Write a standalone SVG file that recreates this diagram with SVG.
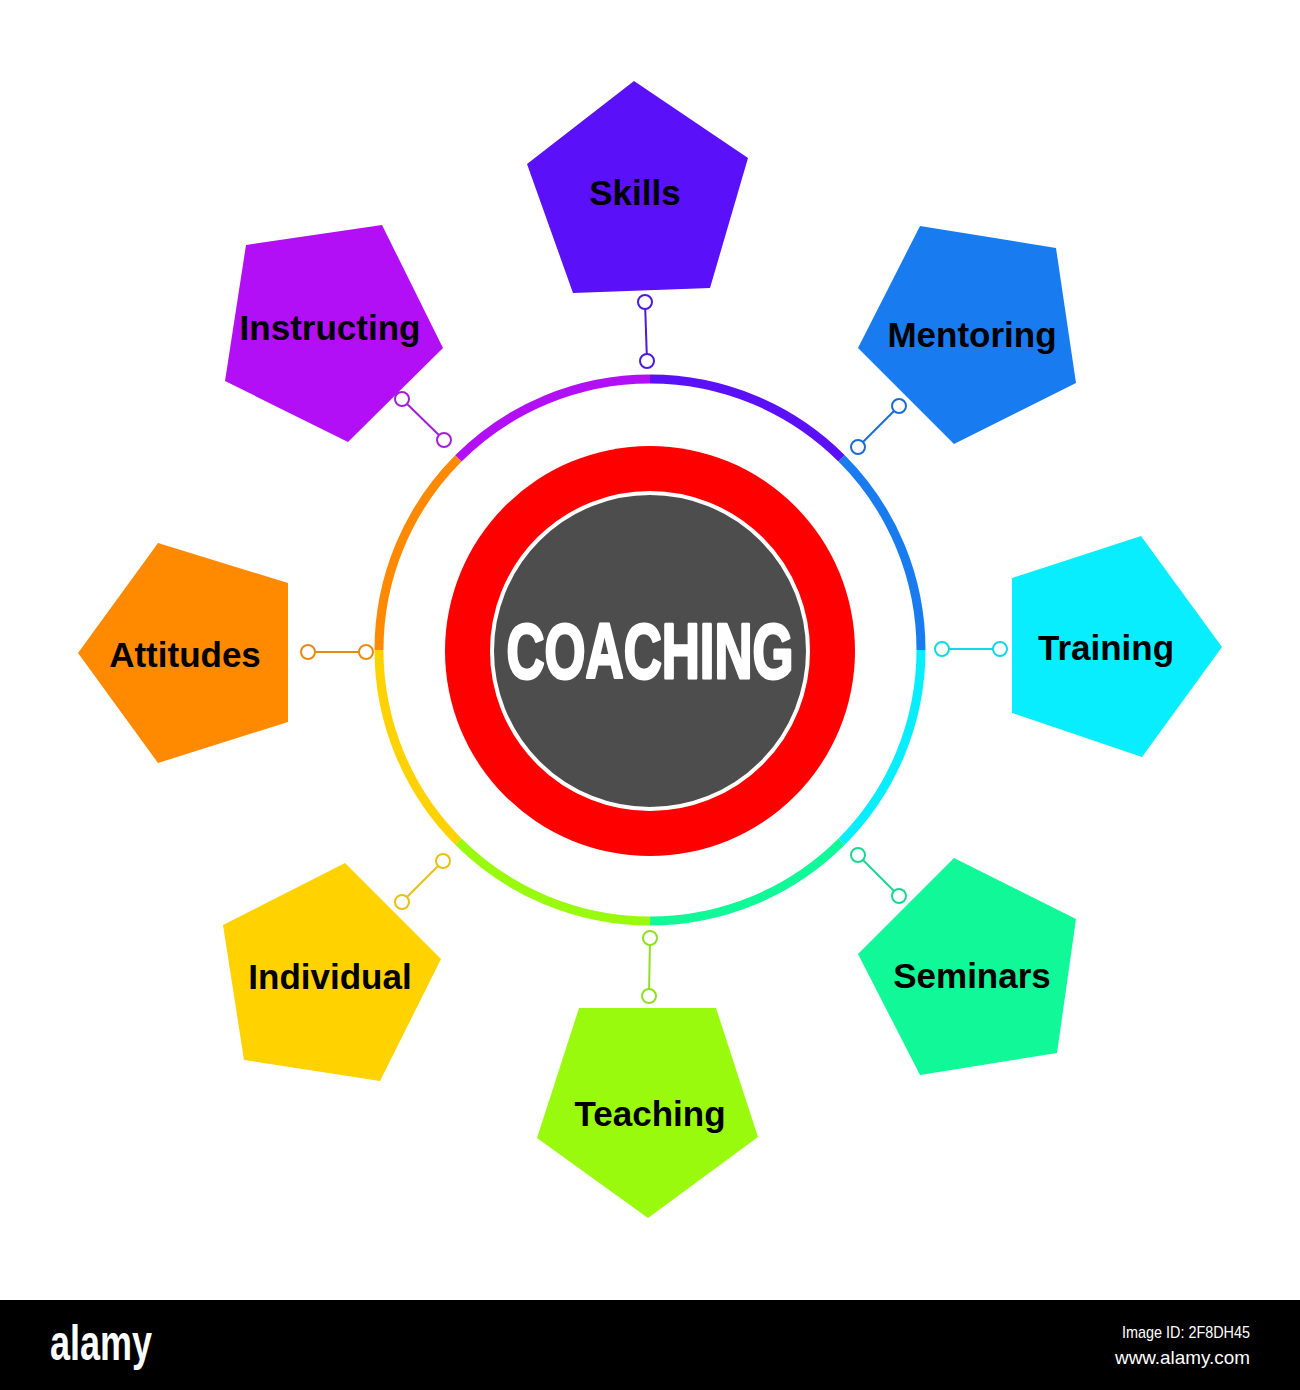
<svg xmlns="http://www.w3.org/2000/svg" width="1300" height="1390" viewBox="0 0 1300 1390">
<style>
.lbl{font-family:"Liberation Sans",Arial,sans-serif;font-weight:bold;font-size:35px;fill:#000;text-anchor:middle}
.seg{fill:none;stroke-width:9}
.con{fill:none;stroke-width:2}
.dot{fill:#fff;stroke-width:2}
.wm{font-family:"Liberation Sans",Arial,sans-serif;fill:#fff}
</style>
<rect x="0" y="0" width="1300" height="1390" fill="#fff"/>

<g id="ring">
<path class="seg" stroke="#5a10f8" d="M650,379 A271,271 0 0 1 841.63,458.37"/>
<path class="seg" stroke="#187cf0" d="M841.63,458.37 A271,271 0 0 1 921,650"/>
<path class="seg" stroke="#08eefe" d="M921,650 A271,271 0 0 1 841.63,841.63"/>
<path class="seg" stroke="#10f898" d="M841.63,841.63 A271,271 0 0 1 650,921"/>
<path class="seg" stroke="#9afa0e" d="M650,921 A271,271 0 0 1 458.37,841.63"/>
<path class="seg" stroke="#ffd200" d="M458.37,841.63 A271,271 0 0 1 379,650"/>
<path class="seg" stroke="#ff8a00" d="M379,650 A271,271 0 0 1 458.37,458.37"/>
<path class="seg" stroke="#b20ff7" d="M458.37,458.37 A271,271 0 0 1 650,379"/>
</g>

<g id="center">
<circle cx="650" cy="651" r="205" fill="#fe0000"/>
<circle cx="650" cy="651" r="158" fill="#4d4d4d" stroke="#fff" stroke-width="4"/>
<text x="650" y="678" font-family="'Liberation Sans',Arial,sans-serif" font-weight="bold" font-size="78" fill="#fff" stroke="#fff" stroke-width="3" stroke-linejoin="round" text-anchor="middle" textLength="287" lengthAdjust="spacingAndGlyphs">COACHING</text>
</g>

<g id="connectors">
<line class="con" stroke="#4b1ae0" x1="645" y1="302" x2="647" y2="361"/>
<circle class="dot" stroke="#4b1ae0" cx="645" cy="302" r="7"/>
<circle class="dot" stroke="#4b1ae0" cx="647" cy="361" r="7"/>
<line class="con" stroke="#1a6ad8" x1="899" y1="406" x2="858" y2="447"/>
<circle class="dot" stroke="#1a6ad8" cx="899" cy="406" r="7"/>
<circle class="dot" stroke="#1a6ad8" cx="858" cy="447" r="7"/>
<line class="con" stroke="#10d8e8" x1="942" y1="649" x2="1000" y2="649"/>
<circle class="dot" stroke="#10d8e8" cx="942" cy="649" r="7"/>
<circle class="dot" stroke="#10d8e8" cx="1000" cy="649" r="7"/>
<line class="con" stroke="#18d890" x1="858" y1="855" x2="899" y2="896"/>
<circle class="dot" stroke="#18d890" cx="858" cy="855" r="7"/>
<circle class="dot" stroke="#18d890" cx="899" cy="896" r="7"/>
<line class="con" stroke="#8ee020" x1="650" y1="938" x2="649" y2="996"/>
<circle class="dot" stroke="#8ee020" cx="650" cy="938" r="7"/>
<circle class="dot" stroke="#8ee020" cx="649" cy="996" r="7"/>
<line class="con" stroke="#e8c010" x1="443" y1="861" x2="402" y2="902"/>
<circle class="dot" stroke="#e8c010" cx="443" cy="861" r="7"/>
<circle class="dot" stroke="#e8c010" cx="402" cy="902" r="7"/>
<line class="con" stroke="#e88a10" x1="366" y1="652" x2="308" y2="652"/>
<circle class="dot" stroke="#e88a10" cx="366" cy="652" r="7"/>
<circle class="dot" stroke="#e88a10" cx="308" cy="652" r="7"/>
<line class="con" stroke="#a020d8" x1="444" y1="440" x2="402" y2="399"/>
<circle class="dot" stroke="#a020d8" cx="444" cy="440" r="7"/>
<circle class="dot" stroke="#a020d8" cx="402" cy="399" r="7"/>
</g>

<g id="skills">
<polygon fill="#5a10f8" points="634,81 748,158 710,288 573,293 527,164"/>
<text class="lbl" x="635" y="205">Skills</text>
</g>
<g id="mentoring">
<polygon fill="#187cf0" points="920,226 1056,248 1076,383 954,444 858,348"/>
<text class="lbl" x="972" y="347">Mentoring</text>
</g>
<g id="training">
<polygon fill="#08eefe" points="1141,536 1222,647 1142,757 1012,713 1012,578"/>
<text class="lbl" x="1106" y="660">Training</text>
</g>
<g id="seminars">
<polygon fill="#10f898" points="954,858 1076,919 1057,1053 920,1075 858,954"/>
<text class="lbl" x="972" y="988">Seminars</text>
</g>
<g id="teaching">
<polygon fill="#9afa0e" points="579,1008 716,1008 758,1137 648,1218 537,1138"/>
<text class="lbl" x="650" y="1126">Teaching</text>
</g>
<g id="individual">
<polygon fill="#ffd200" points="345,863 441,959 380,1081 244,1060 223,925"/>
<text class="lbl" x="330" y="989">Individual</text>
</g>
<g id="attitudes">
<polygon fill="#ff8a00" points="158,543 288,583 288,722 158,763 78,653"/>
<text class="lbl" x="185" y="667">Attitudes</text>
</g>
<g id="instructing">
<polygon fill="#b20ff7" points="246,245 382,225 443,348 348,442 225,381"/>
<text class="lbl" x="330" y="340">Instructing</text>
</g>

<g id="footer">
<rect x="0" y="1300" width="1300" height="90" fill="#000"/>
<text class="wm" x="50" y="1360" font-size="50" font-weight="bold" textLength="102" lengthAdjust="spacingAndGlyphs">alamy</text>
<text class="wm" x="1250" y="1338" font-size="17" text-anchor="end" textLength="128" lengthAdjust="spacingAndGlyphs">Image ID: 2F8DH45</text>
<text class="wm" x="1250" y="1364" font-size="19" text-anchor="end" textLength="135" lengthAdjust="spacingAndGlyphs">www.alamy.com</text>
</g>
</svg>
